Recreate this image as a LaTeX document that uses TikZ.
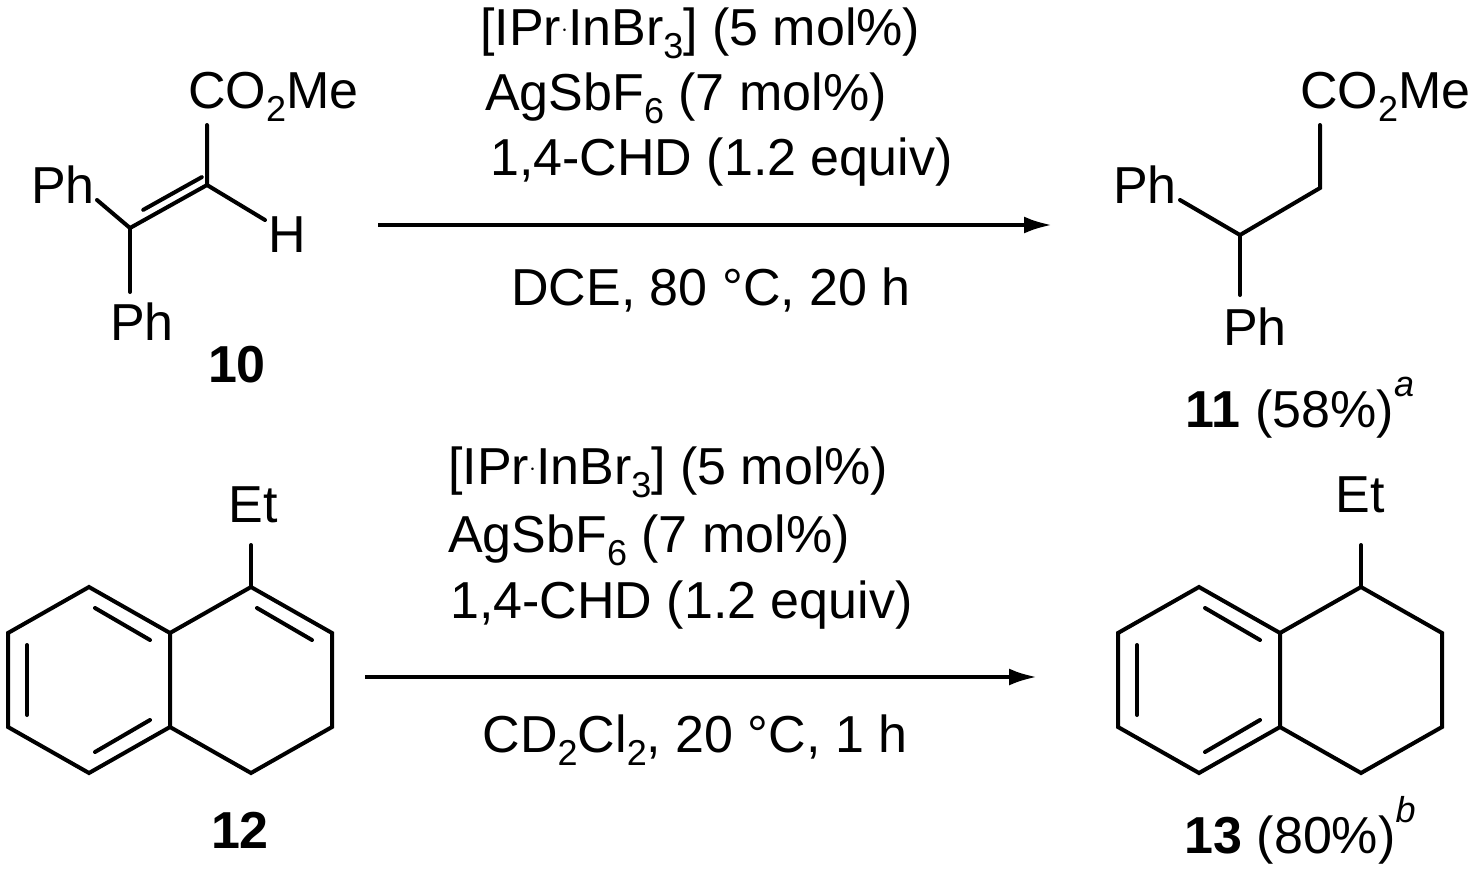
\documentclass[tikz,border=0pt]{standalone}
\usepackage{fontspec}
\setmainfont{Liberation Sans}
\usetikzlibrary{arrows.meta,calc}
\newcommand{\sbs}[1]{\raisebox{-0.25em}{\fontsize{36}{40}\selectfont #1}}
\newcommand{\sps}[1]{\raisebox{0.6em}{\fontsize{36}{40}\selectfont\itshape #1}}
\begin{document}
\begin{tikzpicture}[x=1pt,y=-1pt,
  bond/.style={line width=4pt,line cap=round},
  lab/.style={font=\fontsize{52}{60}\selectfont,inner sep=0pt},
  rxn/.style={line width=4pt,-{Latex[length=28pt,width=17pt]}}]
\useasboundingbox (0,0) rectangle (1478,868);
% molecule 10
\node[lab] (ph1) at (63,185) {Ph};
\node[lab] (ph2) at (142,322) {Ph};
\node[lab,anchor=west] (co1) at (188,97) {CO\sbs{2}Me};
\node[lab] (h1) at (287,235) {H};
\node[lab,font=\fontsize{52}{60}\selectfont\bfseries] (n10) at (237,365) {10};
\coordinate (c1) at (130,228);
\coordinate (c2) at (207,185);
\draw[bond] (97,200) -- (c1) -- (c2) -- (207,125);
\draw[bond] (c1) -- (130,292);
\draw[bond] (c2) -- (265,220);
\draw[bond] ($(c1)!0.12!(c2)+(4,-13)$) -- ($(c1)!0.88!(c2)+(4,-13)$);
% arrow 1
\draw[rxn] (378,225) -- (1052,225);
\node[lab,anchor=west] (t1) at (480,33) {[IPr\raisebox{0.3ex}{$\cdot$}InBr\sbs{3}] (5 mol\%)};
\node[lab,anchor=west] (t2) at (485,98) {AgSbF\sbs{6} (7 mol\%)};
\node[lab,anchor=west] (t3) at (490,162) {1,4-CHD (1.2 equiv)};
\node[lab] (t4) at (711,290) {DCE, 80 °C, 20 h};
% molecule 11
\node[lab] (ph3) at (1145,185) {Ph};
\node[lab] (ph4) at (1255,327) {Ph};
\node[lab,anchor=west] (co2) at (1300,97) {CO\sbs{2}Me};
\coordinate (d1) at (1240,235); \coordinate (d2) at (1320,188);
\draw[bond] (1180,200) -- (d1) -- (d2) -- (1320,125);
\draw[bond] (d1) -- (1240,295);
\node[lab] (n11) at (1300,408) {\textbf{11} (58\%)\sps{a}};
% arrow 2
\draw[rxn] (365,677) -- (1037,677);
\node[lab,anchor=west] (u1) at (448,472) {[IPr\raisebox{0.3ex}{$\cdot$}InBr\sbs{3}] (5 mol\%)};
\node[lab,anchor=west] (u2) at (448,540) {AgSbF\sbs{6} (7 mol\%)};
\node[lab,anchor=west] (u3) at (450,605) {1,4-CHD (1.2 equiv)};
\node[lab] (u4) at (695,740) {CD\sbs{2}Cl\sbs{2}, 20 °C, 1 h};
% molecule 12 and 13
\foreach \ox/\dbl in {0/1,1110/0}{
 \begin{scope}[xshift=\ox]
 \draw[bond] (89,587) -- (170,633) -- (170,727) -- (89,773) -- (8,727) -- (8,633) -- cycle;
 \draw[bond] (170,633) -- (251,587) -- (332,633) -- (332,727) -- (251,773) -- (170,727);
 \draw[bond] (251,587) -- (251,545);
 \draw[bond] (27,645) -- (27,715);
 \draw[bond] (95,608) -- (150,640);
 \draw[bond] (150,720) -- (95,752);
 \ifnum\dbl=1 \draw[bond] (257,608) -- (312,640); \fi
 \end{scope}}
\node[lab] (et1) at (253,505) {Et};
\node[lab] (et2) at (1360,495) {Et};
\node[lab,font=\fontsize{52}{60}\selectfont\bfseries] (n12) at (240,830) {12};
\node[lab] (n13) at (1300,830) {\textbf{13} (80\%)\sps{b}};
\end{tikzpicture}
\end{document}
